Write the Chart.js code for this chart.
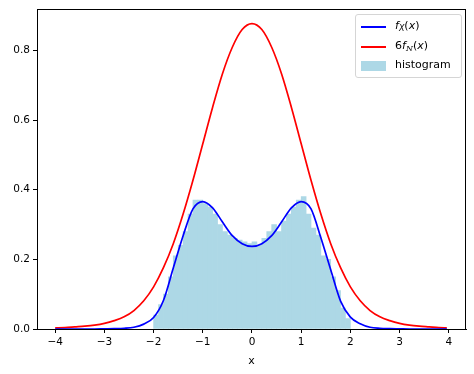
<!DOCTYPE html>
<html>
<head>
<meta charset="utf-8">
<script src="https://cdn.jsdelivr.net/npm/chart.js@4.4.1/dist/chart.umd.min.js"></script>
<style>
  html, body { margin: 0; padding: 0; background: #fff; }
  #wrap { position: relative; width: 474px; height: 374px; }
  #legend {
    position: absolute; left: 355px; top: 14px; width: 105px; height: 62px;
    border: 1px solid #d5d5d5; border-radius: 3px; background: rgba(255,255,255,0.85);
    font-family: "DejaVu Sans", sans-serif; font-size: 11px; color: #000;
  }
  .item { position: absolute; left: 0; height: 14px; width: 105px; }
  .swatch { position: absolute; left: 5px; width: 25px; }
  .lbl { position: absolute; left: 39px; top: -1px; white-space: nowrap; line-height: 14px; }
  .lbl i { font-style: oblique; }
  .lbl sub { font-size: 8px; vertical-align: -2px; }
</style>
</head>
<body>
<div id="wrap">
  <canvas id="c" width="474" height="374"></canvas>
  <div id="legend">
    <div class="item" style="top:5px">
      <div class="swatch" style="top:6px;height:2px;background:blue"></div>
      <div class="lbl"><i>f</i><sub><i>X</i></sub>(<i>x</i>)</div>
    </div>
    <div class="item" style="top:25px">
      <div class="swatch" style="top:6px;height:2px;background:red"></div>
      <div class="lbl">6<i>f</i><sub><i style="font-family:'DejaVu Serif',serif">N</i></sub>(<i>x</i>)</div>
    </div>
    <div class="item" style="top:44px">
      <div class="swatch" style="top:2px;height:10px;background:lightblue"></div>
      <div class="lbl">histogram</div>
    </div>
  </div>
</div>
<script>
// ---- data ----
const curveX = [-4.0,-3.8,-3.6,-3.4,-3.2,-3.0,-2.8,-2.6,-2.4,-2.2,-2.0,-1.8,-1.6,-1.4,-1.2,-1.0,-0.8,-0.6,-0.4,-0.2,
                0.0,0.2,0.4,0.6,0.8,1.0,1.2,1.4,1.6,1.8,2.0,2.2,2.4,2.6,2.8,3.0,3.2,3.4,3.6,3.8,3.96];
const blueY = [0,0,0,0,0,0.0005,0.001,0.002,0.005,0.014,0.033,0.082,0.175,0.268,0.345,0.366,0.348,0.307,0.268,0.245,
               0.237,0.245,0.268,0.307,0.348,0.366,0.345,0.262,0.170,0.080,0.034,0.015,0.005,0.002,0.001,0.0005,0,0,0,0,0];
const redY = [0.003,0.004,0.006,0.008,0.011,0.016,0.024,0.035,0.053,0.081,0.121,0.176,0.245,0.330,0.427,0.532,0.637,0.733,0.809,0.860,
              0.877,0.860,0.809,0.733,0.637,0.532,0.427,0.330,0.245,0.176,0.121,0.081,0.053,0.035,0.024,0.016,0.011,0.008,0.006,0.004,0.003];
const binCenters = [-1.95,-1.85,-1.75,-1.65,-1.55,-1.45,-1.35,-1.25,-1.15,-1.05,-0.95,-0.85,-0.75,-0.65,-0.55,-0.45,-0.35,-0.25,-0.15,-0.05,
                    0.05,0.15,0.25,0.35,0.45,0.55,0.65,0.75,0.85,0.95,1.05,1.15,1.25,1.35,1.45,1.55,1.65,1.75,1.85,1.95];
const histY = [0.04,0.07,0.10,0.15,0.21,0.24,0.28,0.33,0.37,0.37,0.36,0.35,0.33,0.30,0.28,0.27,0.26,0.255,0.25,0.245,
               0.25,0.24,0.26,0.28,0.30,0.28,0.31,0.33,0.35,0.37,0.38,0.33,0.29,0.27,0.21,0.20,0.15,0.11,0.06,0.03];
const xTickStep = 1;    // x ticks: -4 ... 4
const yTickStep = 0.2;  // y ticks: 0.0 ... 0.8

const pts = (xs, ys) => xs.map((x, i) => ({x: x, y: ys[i]}));
const fmt = v => (v < 0 ? '\u2212' : '') + Math.abs(v);

const frame = {
  id: 'frame',
  afterDatasetsDraw(chart) {
    const a = chart.chartArea, ctx = chart.ctx;
    ctx.save();
    ctx.strokeStyle = '#000';
    ctx.lineWidth = 1;
    ctx.strokeRect(Math.round(a.left) + 0.5, Math.round(a.top) + 0.5,
                   Math.round(a.right - a.left) - 1, Math.round(a.bottom - a.top));
    ctx.restore();
  }
};

new Chart(document.getElementById('c'), {
  type: 'line',
  data: {
    datasets: [
      { label: 'f_X(x)', data: pts(curveX, blueY), borderColor: 'blue', borderWidth: 1.7,
        pointRadius: 0, cubicInterpolationMode: 'monotone', fill: false, order: 0 },
      { label: '6f_N(x)', data: pts(curveX, redY), borderColor: 'red', borderWidth: 1.7,
        pointRadius: 0, cubicInterpolationMode: 'monotone', fill: false, order: 1 },
      { type: 'bar', label: 'histogram', data: pts(binCenters, histY), backgroundColor: 'lightblue',
        borderWidth: 0, barPercentage: 1.0, categoryPercentage: 1.0, order: 2 }
    ]
  },
  options: {
    responsive: false,
    animation: false,
    events: [],
    layout: { padding: { left: 0, top: 8, right: 8, bottom: 0 } },
    plugins: { legend: { display: false }, tooltip: { enabled: false } },
    scales: {
      x: {
        type: 'linear', min: -4.37, max: 4.35, offset: false,
        afterFit(s) { s.height = 45; },
        ticks: { stepSize: xTickStep, includeBounds: false, callback: v => fmt(v),
                 font: { family: 'DejaVu Sans', size: 10.5 }, color: '#000',
                 padding: 3, maxRotation: 0, autoSkip: false },
        grid: { drawOnChartArea: false, drawTicks: true, tickLength: 4, tickColor: '#000', offset: false },
        border: { display: true, color: '#000', width: 1 },
        title: { display: true, text: 'x', font: { family: 'DejaVu Sans', size: 11 }, color: '#000',
                 padding: { top: 2, bottom: 6 } }
      },
      y: {
        type: 'linear', min: 0, max: 0.918,
        afterFit(s) { s.width = 37; },
        ticks: { stepSize: yTickStep, includeBounds: false, callback: v => v.toFixed(1),
                 font: { family: 'DejaVu Sans', size: 10.5 }, color: '#000', padding: 3 },
        grid: { drawOnChartArea: false, drawTicks: true, tickLength: 4, tickColor: '#000' },
        border: { display: true, color: '#000', width: 1 }
      }
    }
  },
  plugins: [frame]
});
</script>
</body>
</html>
